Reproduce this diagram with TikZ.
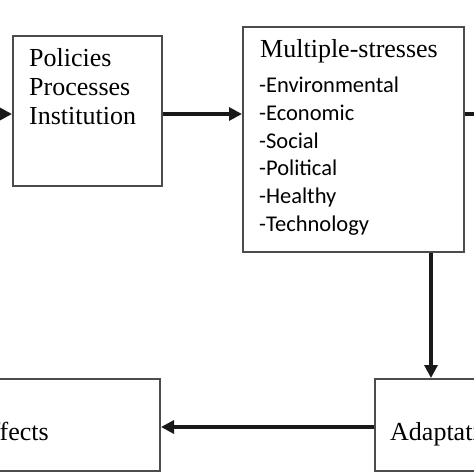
\documentclass[tikz,border=0pt]{standalone}
\usepackage{fontspec}
\setmainfont{Liberation Serif}
\newfontfamily\listfont{Carlito}
\usetikzlibrary{arrows.meta,positioning}

\begin{document}
\begin{tikzpicture}[
    x=1pt, y=-1pt,
    % cajas y flechas
    block/.style={rectangle, draw=black!70, line width=2pt, inner sep=0pt, fill=white},
    heading/.style={anchor=base west, inner sep=0pt, font=\fontsize{26}{29}\selectfont, align=left},
    items/.style={anchor=base west, inner sep=0pt, font=\listfont\fontsize{22.5}{27.8}\selectfont, align=left},
    link/.style={-{Triangle[length=13pt,width=13pt]}, line width=3.2pt, black!90}
  ]
    \useasboundingbox (0,0) rectangle (474,474);
    \clip (0,0) rectangle (474,474);

    \node [block, minimum width=149pt, minimum height=150pt, anchor=north west] (policy) at (12,35) {};
    % base = linea inferior
    \node [heading] (policytext) at (29,124) {Policies\\Processes\\Institution};

    \node [block, minimum width=221pt, minimum height=225pt, anchor=north west] (stress) at (242,26) {};
    \node [heading] (stresstitle) at (260,57) {Multiple-stresses};
    \node [items] (stresslist) at (259,231.5) {-Environmental\\-Economic\\-Social\\-Political\\-Healthy\\-Technology};

    \node [block, minimum width=250pt, minimum height=92pt, anchor=north west] (adapt) at (374,378) {};
    \node [heading] (adapttext) at (390,440) {Adaptation};

    \node [block, minimum width=260pt, minimum height=92pt, anchor=north east] (effect) at (161,378) {};
    \node [heading, anchor=base east] (effecttext) at (49,440) {Effects};

    \coordinate (inlet) at (-20,114);
    \coordinate (outlet) at (500,114);
    \coordinate (drop) at (431,0);
    \coordinate (level) at (0,427);

    \draw[link] (inlet) -- (inlet -| policy.west);
    \draw[link] (policy.east |- inlet) -- (inlet -| stress.west);
    \draw[line width=3.2pt, black!90] (stress.east |- outlet) -- (outlet);
    \draw[link] (drop |- stress.south) -- (drop |- adapt.north);
    \draw[link] (level -| adapt.west) -- (level -| effect.east);
\end{tikzpicture}
\end{document}
